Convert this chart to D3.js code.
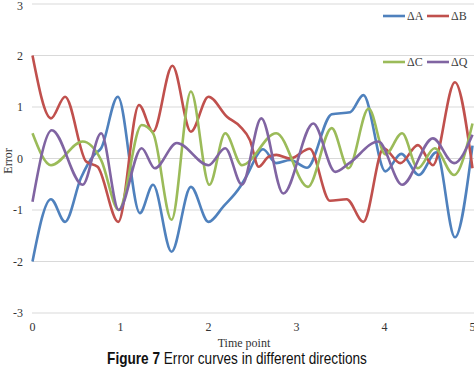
<!DOCTYPE html>
<html>
<head>
<meta charset="utf-8">
<title>Error curves</title>
<script src="https://d3js.org/d3.v7.min.js"></script>
<style>
  body { margin: 0; background: #fff; }
  .tick-label { font-family: "Liberation Serif", "Times New Roman", serif; font-size: 12px; fill: #333; }
  .legend-label { font-family: "Liberation Serif", "Times New Roman", serif; font-size: 12px; fill: #404040; }
  .title { font-family: "Liberation Sans", Arial, sans-serif; font-size: 16px; fill: #111; }
</style>
</head>
<body>
<script>
var width = 474, height = 372;

var seriesNames = ["\u0394A", "\u0394B", "\u0394C", "\u0394Q"];
var colors = ["#4F81BD", "#C0504D", "#9BBB59", "#8064A2"];
var yTicks = [-3, -2, -1, 0, 1, 2, 3];
var xTicks = [0, 1, 2, 3, 4, 5];

// time points and values
var tA = [0, 0.21, 0.37, 0.55, 0.7, 0.78, 0.97, 1.22, 1.37, 1.58, 1.8, 2.0, 2.17, 2.36, 2.43, 2.62, 2.77, 2.93, 3.12, 3.4, 3.61, 3.76, 4.01, 4.19, 4.39, 4.59, 4.8, 5];
var vA = [-2, -0.79, -1.23, -0.38, 0.07, 0.2, 1.2, -1.06, -0.51, -1.81, -0.55, -1.23, -0.93, -0.55, -0.35, 0.18, -0.09, -0.03, -0.18, 0.86, 0.9, 1.23, -0.25, 0.09, -0.32, 0.12, -1.53, 0.25];

var tB = [0, 0.21, 0.37, 0.61, 0.74, 0.975, 1.21, 1.37, 1.59, 1.8, 2.0, 2.21, 2.36, 2.47, 2.57, 2.68, 2.77, 2.93, 3.15, 3.38, 3.57, 3.76, 3.99, 4.18, 4.38, 4.55, 4.8, 5];
var vB = [2, 0.78, 1.2, -0.06, -0.16, -1.23, 1.04, 0.52, 1.8, 0.52, 1.2, 0.81, 0.62, 0.36, -0.16, 0.03, 0.07, 0, 0.19, -0.82, -0.79, -1.23, 0.2, -0.09, 0.26, -0.13, 1.48, -0.19];

var tC = [0, 0.21, 0.57, 0.78, 0.98, 1.24, 1.37, 1.58, 1.8, 2.01, 2.19, 2.38, 2.77, 3.13, 3.4, 3.59, 3.82, 4.01, 4.2, 4.38, 4.57, 4.79, 5];
var vC = [0.49, -0.13, 0.33, -0.03, -1.0, 0.65, 0.49, -1.19, 1.3, -0.51, 0.49, -0.13, 0.49, -0.55, 0.59, -0.19, 0.97, 0.08, 0.49, -0.19, 0.2, -0.32, 0.68];

var tQ = [0, 0.22, 0.57, 0.78, 0.98, 1.24, 1.39, 1.64, 2.0, 2.19, 2.38, 2.6, 2.85, 3.19, 3.44, 3.6, 3.93, 4.2, 4.55, 4.79, 5];
var vQ = [-0.84, 0.55, -0.51, 0.49, -1.0, 0.2, -0.19, 0.3, -0.13, 0.2, -0.51, 0.78, -0.68, 0.68, -0.26, -0.09, 0.33, -0.51, 0.39, -0.09, 0.46];

var times = [tA, tB, tC, tQ];
var values = [vA, vB, vC, vQ];

var svg = d3.select("body").append("svg")
  .attr("width", width).attr("height", height);

var x = d3.scaleLinear().domain([0, 5]).range([32.5, 472.5]);
var y = d3.scaleLinear().domain([-3, 3]).range([313, 4]);

// grid lines
svg.append("g").selectAll("line").data(yTicks).enter().append("line")
  .attr("x1", 32).attr("x2", width)
  .attr("y1", function(d) { return y(d); })
  .attr("y2", function(d) { return y(d); })
  .attr("stroke", "#d9d9d9").attr("stroke-width", 1);

// y axis labels
svg.append("g").selectAll("text").data(yTicks).enter().append("text")
  .attr("class", "tick-label")
  .attr("x", 23).attr("y", function(d) { return Math.max(y(d) + 4, 10); })
  .attr("text-anchor", "end")
  .text(function(d) { return d; });

// x axis labels
svg.append("g").selectAll("text").data(xTicks).enter().append("text")
  .attr("class", "tick-label")
  .attr("x", function(d) { return x(d); }).attr("y", 331)
  .attr("text-anchor", "middle")
  .text(function(d) { return d; });

svg.append("text").attr("class", "tick-label")
  .attr("x", 244).attr("y", 347).attr("text-anchor", "middle")
  .text("Time point");

svg.append("text").attr("class", "tick-label")
  .attr("transform", "translate(12,161) rotate(-90)")
  .attr("text-anchor", "middle")
  .text("Error");

// curves
var line = d3.line()
  .x(function(d) { return x(d[0]); })
  .y(function(d) { return y(d[1]); })
  .curve(d3.curveMonotoneX);

var plot = svg.append("g");
seriesNames.forEach(function(name, i) {
  var pts = d3.zip(times[i], values[i]);
  plot.append("path")
    .attr("d", line(pts))
    .attr("fill", "none")
    .attr("stroke", colors[i])
    .attr("stroke-width", 2.6)
    .attr("stroke-linejoin", "round");
});

// legend
var legendPos = [[383, 16], [427, 16], [383, 62], [427, 62]];
var legend = svg.append("g").selectAll("g").data(seriesNames).enter().append("g")
  .attr("transform", function(d, i) { return "translate(" + legendPos[i][0] + "," + legendPos[i][1] + ")"; });
legend.append("line")
  .attr("x1", 0).attr("x2", 22).attr("y1", 0).attr("y2", 0)
  .attr("stroke", function(d, i) { return colors[i]; })
  .attr("stroke-width", 2.6);
legend.append("text").attr("class", "legend-label")
  .attr("x", 24).attr("y", 4)
  .text(function(d) { return d; });

// caption, squeezed horizontally to the reference width
var titleG = svg.append("g").attr("transform", "translate(237,364)");
var title = titleG.append("text").attr("class", "title")
  .attr("x", 0).attr("y", 0).attr("text-anchor", "middle");
title.append("tspan").attr("font-weight", "bold").text("Figure 7");
title.append("tspan").text(" Error curves in different directions");
var w = title.node().getComputedTextLength();
titleG.attr("transform", "translate(237,364) scale(" + (260 / w) + ",1)");
</script>
</body>
</html>
